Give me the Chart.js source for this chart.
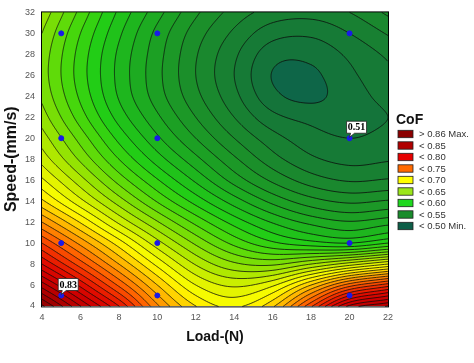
<!DOCTYPE html>
<html>
<head>
<meta charset="utf-8">
<script src="https://cdn.jsdelivr.net/npm/chart.js@4.4.1/dist/chart.umd.min.js"></script>
<style>
  html, body { margin: 0; padding: 0; background: #fff; }
</style>
</head>
<body>
<canvas id="cofChart" width="474" height="363"></canvas>
<script>
// response surface: rows = speeds, columns = loads
const loads = [4, 6, 8, 10, 12, 14, 16, 18, 20, 22];
const speeds = [4, 6, 8, 10, 12, 14, 16, 18, 20, 22, 24, 26, 28, 30, 32];
const cofGrid = [
  [0.872, 0.830, 0.790, 0.742, 0.710, 0.698, 0.718, 0.768, 0.822, 0.840], // 4
  [0.835, 0.797, 0.758, 0.720, 0.690, 0.678, 0.688, 0.720, 0.755, 0.775], // 6
  [0.800, 0.765, 0.730, 0.697, 0.669, 0.652, 0.648, 0.660, 0.675, 0.690], // 8
  [0.770, 0.737, 0.705, 0.674, 0.648, 0.627, 0.612, 0.604, 0.600, 0.610], // 10
  [0.740, 0.709, 0.678, 0.651, 0.627, 0.606, 0.589, 0.577, 0.571, 0.576], // 12
  [0.712, 0.683, 0.655, 0.629, 0.606, 0.585, 0.567, 0.554, 0.548, 0.551], // 14
  [0.692, 0.664, 0.636, 0.611, 0.588, 0.566, 0.548, 0.535, 0.529, 0.531], // 16
  [0.676, 0.648, 0.620, 0.595, 0.573, 0.552, 0.534, 0.522, 0.517, 0.519], // 18
  [0.665, 0.636, 0.607, 0.582, 0.560, 0.540, 0.524, 0.514, 0.510, 0.513], // 20
  [0.655, 0.625, 0.596, 0.572, 0.550, 0.530, 0.513, 0.507, 0.506, 0.510], // 22
  [0.648, 0.618, 0.589, 0.565, 0.543, 0.523, 0.503, 0.4975, 0.506, 0.513], // 24
  [0.645, 0.615, 0.587, 0.563, 0.540, 0.520, 0.4995, 0.498, 0.508, 0.517], // 26
  [0.646, 0.616, 0.588, 0.564, 0.541, 0.522, 0.504, 0.503, 0.512, 0.522], // 28
  [0.650, 0.620, 0.592, 0.567, 0.545, 0.528, 0.514, 0.512, 0.520, 0.531], // 30
  [0.657, 0.627, 0.598, 0.574, 0.552, 0.536, 0.526, 0.524, 0.530, 0.542]  // 32
];

// experimental runs (blue dots) and the two labelled values
const pointLoads = [5, 5, 5, 5, 10, 10, 10, 10, 20, 20, 20, 20];
const pointSpeeds = [5, 10, 20, 30, 5, 10, 20, 30, 5, 10, 20, 30];
const calloutLoads = [5, 20];
const calloutSpeeds = [5, 20];
const calloutTexts = ["0.83", "0.51"];

const loadTicks = [4, 6, 8, 10, 12, 14, 16, 18, 20, 22];
const speedTicks = [4, 6, 8, 10, 12, 14, 16, 18, 20, 22, 24, 26, 28, 30, 32];

const legendTitle = "CoF";
const legendLabels = ["> 0.86 Max.", "< 0.85", "< 0.80", "< 0.75", "< 0.70", "< 0.65", "< 0.60", "< 0.55", "< 0.50 Min."];

// styling
const LEGEND_COLORS = ["#8b0000", "#b00000", "#e60000", "#ff6a00", "#ffff00", "#9be61a", "#1fd81f", "#1a8c2c", "#0d5e48"];
const CONTOUR_STEP = 0.01;
const COLOR_STOPS = [
  [0.495, [14, 102, 72]],
  [0.505, [20, 116, 58]],
  [0.525, [24, 128, 50]],
  [0.545, [27, 143, 42]],
  [0.565, [28, 160, 36]],
  [0.585, [30, 182, 30]],
  [0.605, [34, 205, 22]],
  [0.625, [70, 215, 12]],
  [0.645, [120, 222, 6]],
  [0.665, [175, 232, 0]],
  [0.685, [228, 244, 0]],
  [0.700, [255, 255, 0]],
  [0.715, [255, 212, 0]],
  [0.735, [255, 155, 0]],
  [0.755, [255, 100, 0]],
  [0.775, [242, 48, 0]],
  [0.795, [224, 12, 0]],
  [0.815, [206, 0, 0]],
  [0.835, [185, 0, 0]],
  [0.855, [160, 0, 0]],
  [0.875, [136, 0, 0]]
];
const FONT = "'Liberation Sans', Arial, sans-serif";

function lerpColor(v) {
  if (v <= COLOR_STOPS[0][0]) return COLOR_STOPS[0][1];
  for (let i = 1; i < COLOR_STOPS.length; i++) {
    const [v1, c1] = COLOR_STOPS[i];
    if (v <= v1) {
      const [v0, c0] = COLOR_STOPS[i - 1];
      const t = (v - v0) / (v1 - v0);
      return c0.map((c, k) => Math.round(c + (c1[k] - c) * t));
    }
  }
  return COLOR_STOPS[COLOR_STOPS.length - 1][1];
}

// grid lookup with linear extension past the edges
function gridAt(r, c) {
  const ny = speeds.length, nx = loads.length;
  if (r < 0) return 2 * gridAt(0, c) - gridAt(1, c);
  if (r >= ny) return 2 * gridAt(ny - 1, c) - gridAt(ny - 2, c);
  if (c < 0) return 2 * gridAt(r, 0) - gridAt(r, 1);
  if (c >= nx) return 2 * gridAt(r, nx - 1) - gridAt(r, nx - 2);
  return cofGrid[r][c];
}

function cubic(p0, p1, p2, p3, t) {
  return p1 + 0.5 * t * (p2 - p0 + t * (2 * p0 - 5 * p1 + 4 * p2 - p3 + t * (3 * (p1 - p2) + p3 - p0)));
}

function cofAt(load, speed) {
  const gx = (load - loads[0]) / (loads[1] - loads[0]);
  const gy = (speed - speeds[0]) / (speeds[1] - speeds[0]);
  const ix = Math.max(0, Math.min(loads.length - 2, Math.floor(gx)));
  const iy = Math.max(0, Math.min(speeds.length - 2, Math.floor(gy)));
  const tx = gx - ix, ty = gy - iy;
  const rows = [];
  for (let r = iy - 1; r <= iy + 2; r++) {
    rows.push(cubic(gridAt(r, ix - 1), gridAt(r, ix), gridAt(r, ix + 1), gridAt(r, ix + 2), tx));
  }
  return cubic(rows[0], rows[1], rows[2], rows[3], ty);
}

const contourPlugin = {
  id: "contour",
  beforeDatasetsDraw(chart) {
    const { ctx, chartArea: area, scales: { x, y } } = chart;
    const W = Math.round(area.right - area.left);
    const H = Math.round(area.bottom - area.top);
    const cols = W + 1;
    const vals = new Float32Array(cols * (H + 1));
    for (let j = 0; j <= H; j++) {
      const s = y.getValueForPixel(area.top + j);
      for (let i = 0; i <= W; i++) {
        vals[j * cols + i] = cofAt(x.getValueForPixel(area.left + i), s);
      }
    }

    // banded fill
    const off = document.createElement("canvas");
    off.width = W; off.height = H;
    const octx = off.getContext("2d");
    const img = octx.createImageData(W, H);
    const cache = {};
    for (let j = 0; j < H; j++) {
      for (let i = 0; i < W; i++) {
        const v = (vals[j * cols + i] + vals[j * cols + i + 1] + vals[(j + 1) * cols + i] + vals[(j + 1) * cols + i + 1]) / 4;
        const k = Math.floor(v / CONTOUR_STEP);
        if (!cache[k]) cache[k] = lerpColor((k + 0.5) * CONTOUR_STEP);
        const c = cache[k];
        const p = (j * W + i) * 4;
        img.data[p] = c[0]; img.data[p + 1] = c[1]; img.data[p + 2] = c[2]; img.data[p + 3] = 255;
      }
    }
    octx.putImageData(img, 0, 0);
    ctx.save();
    ctx.drawImage(off, area.left, area.top);

    // contour lines, marching squares on the pixel grid
    ctx.beginPath();
    for (let j = 0; j < H; j++) {
      for (let i = 0; i < W; i++) {
        const a = vals[j * cols + i], b = vals[j * cols + i + 1];
        const d = vals[(j + 1) * cols + i], c = vals[(j + 1) * cols + i + 1];
        const lo = Math.min(a, b, c, d), hi = Math.max(a, b, c, d);
        const k0 = Math.ceil(lo / CONTOUR_STEP), k1 = Math.floor(hi / CONTOUR_STEP);
        for (let k = k0; k <= k1; k++) {
          const t = k * CONTOUR_STEP;
          if (t < 0.495) continue;
          const pts = [];
          const px = area.left + i, py = area.top + j;
          if ((a < t) !== (b < t)) pts.push([px + (t - a) / (b - a), py]);
          if ((b < t) !== (c < t)) pts.push([px + 1, py + (t - b) / (c - b)]);
          if ((d < t) !== (c < t)) pts.push([px + (t - d) / (c - d), py + 1]);
          if ((a < t) !== (d < t)) pts.push([px, py + (t - a) / (d - a)]);
          for (let m = 0; m + 1 < pts.length; m += 2) {
            ctx.moveTo(pts[m][0], pts[m][1]);
            ctx.lineTo(pts[m + 1][0], pts[m + 1][1]);
          }
        }
      }
    }
    ctx.strokeStyle = "rgba(10,10,10,0.85)";
    ctx.lineWidth = 0.9;
    ctx.stroke();

    ctx.strokeStyle = "#000";
    ctx.lineWidth = 1;
    ctx.strokeRect(area.left - 0.5, area.top - 0.5, W + 1, H + 1);
    ctx.restore();
  }
};

const calloutPlugin = {
  id: "callouts",
  afterDatasetsDraw(chart) {
    const { ctx, scales: { x, y } } = chart;
    ctx.save();
    ctx.font = "bold 10px 'Liberation Serif', 'Times New Roman', serif";
    ctx.textAlign = "center";
    ctx.textBaseline = "middle";
    calloutTexts.forEach((txt, i) => {
      const px = x.getPixelForValue(calloutLoads[i]);
      const py = y.getPixelForValue(calloutSpeeds[i]);
      const left = px - 3, top = py - 17, w = 20, h = 12;
      ctx.beginPath();
      ctx.moveTo(left, top);
      ctx.lineTo(left + w, top);
      ctx.lineTo(left + w, top + h);
      ctx.lineTo(left + 8, top + h);
      ctx.lineTo(px, py - 1);
      ctx.lineTo(left + 4, top + h);
      ctx.lineTo(left, top + h);
      ctx.closePath();
      ctx.fillStyle = "#fff";
      ctx.fill();
      ctx.strokeStyle = "#222";
      ctx.lineWidth = 0.8;
      ctx.stroke();
      ctx.fillStyle = "#000";
      ctx.fillText(txt, left + w / 2, top + h / 2 + 0.5);
    });
    ctx.restore();
  }
};

const legendPlugin = {
  id: "cofLegend",
  afterDraw(chart) {
    const { ctx } = chart;
    ctx.save();
    ctx.fillStyle = "#111";
    ctx.font = "bold 14px " + FONT;
    ctx.textBaseline = "alphabetic";
    ctx.fillText(legendTitle, 396, 124);
    ctx.font = "9.5px " + FONT;
    ctx.textBaseline = "middle";
    legendLabels.forEach((lab, i) => {
      const cy = 134 + i * 11.5;
      ctx.fillStyle = LEGEND_COLORS[i];
      ctx.fillRect(398, cy - 3.7, 15, 7.4);
      ctx.strokeStyle = "#222";
      ctx.lineWidth = 0.8;
      ctx.strokeRect(398, cy - 3.7, 15, 7.4);
      ctx.fillStyle = "#333";
      ctx.fillText(lab, 419, cy + 0.5);
    });
    ctx.restore();
  }
};

new Chart(document.getElementById("cofChart"), {
  type: "scatter",
  data: {
    datasets: [{
      data: pointLoads.map((l, i) => ({ x: l, y: pointSpeeds[i] })),
      backgroundColor: "#1a1ae8",
      borderColor: "#1a1ae8",
      pointRadius: 2.5,
      pointHoverRadius: 2.5
    }]
  },
  options: {
    responsive: false,
    animation: false,
    events: [],
    layout: { padding: { top: 5, right: 86, left: 0, bottom: 0 } },
    plugins: { legend: { display: false }, tooltip: { enabled: false } },
    scales: {
      x: {
        type: "linear", min: 4, max: 22,
        afterBuildTicks: (s) => { s.ticks = loadTicks.map((v) => ({ value: v })); },
        afterFit: (s) => { s.height = 57; },
        grid: { display: false, drawTicks: false },
        border: { display: false },
        ticks: { padding: 6, color: "#555", font: { family: FONT, size: 9 }, maxRotation: 0, autoSkip: false },
        title: { display: true, text: "Load-(N)", color: "#111", font: { family: FONT, size: 14, weight: "bold" }, padding: { top: 0, bottom: 17 } }
      },
      y: {
        type: "linear", min: 4, max: 32,
        afterBuildTicks: (s) => { s.ticks = speedTicks.map((v) => ({ value: v })); },
        afterFit: (s) => { s.width = 42; },
        grid: { display: false, drawTicks: false },
        border: { display: false },
        ticks: { padding: 7, color: "#555", font: { family: FONT, size: 9 }, autoSkip: false },
        title: { display: true, text: "Speed-(mm/s)", color: "#111", font: { family: FONT, size: 16, weight: "bold" }, padding: { top: 2, bottom: 0 } }
      }
    }
  },
  plugins: [contourPlugin, calloutPlugin, legendPlugin]
});
</script>
</body>
</html>
